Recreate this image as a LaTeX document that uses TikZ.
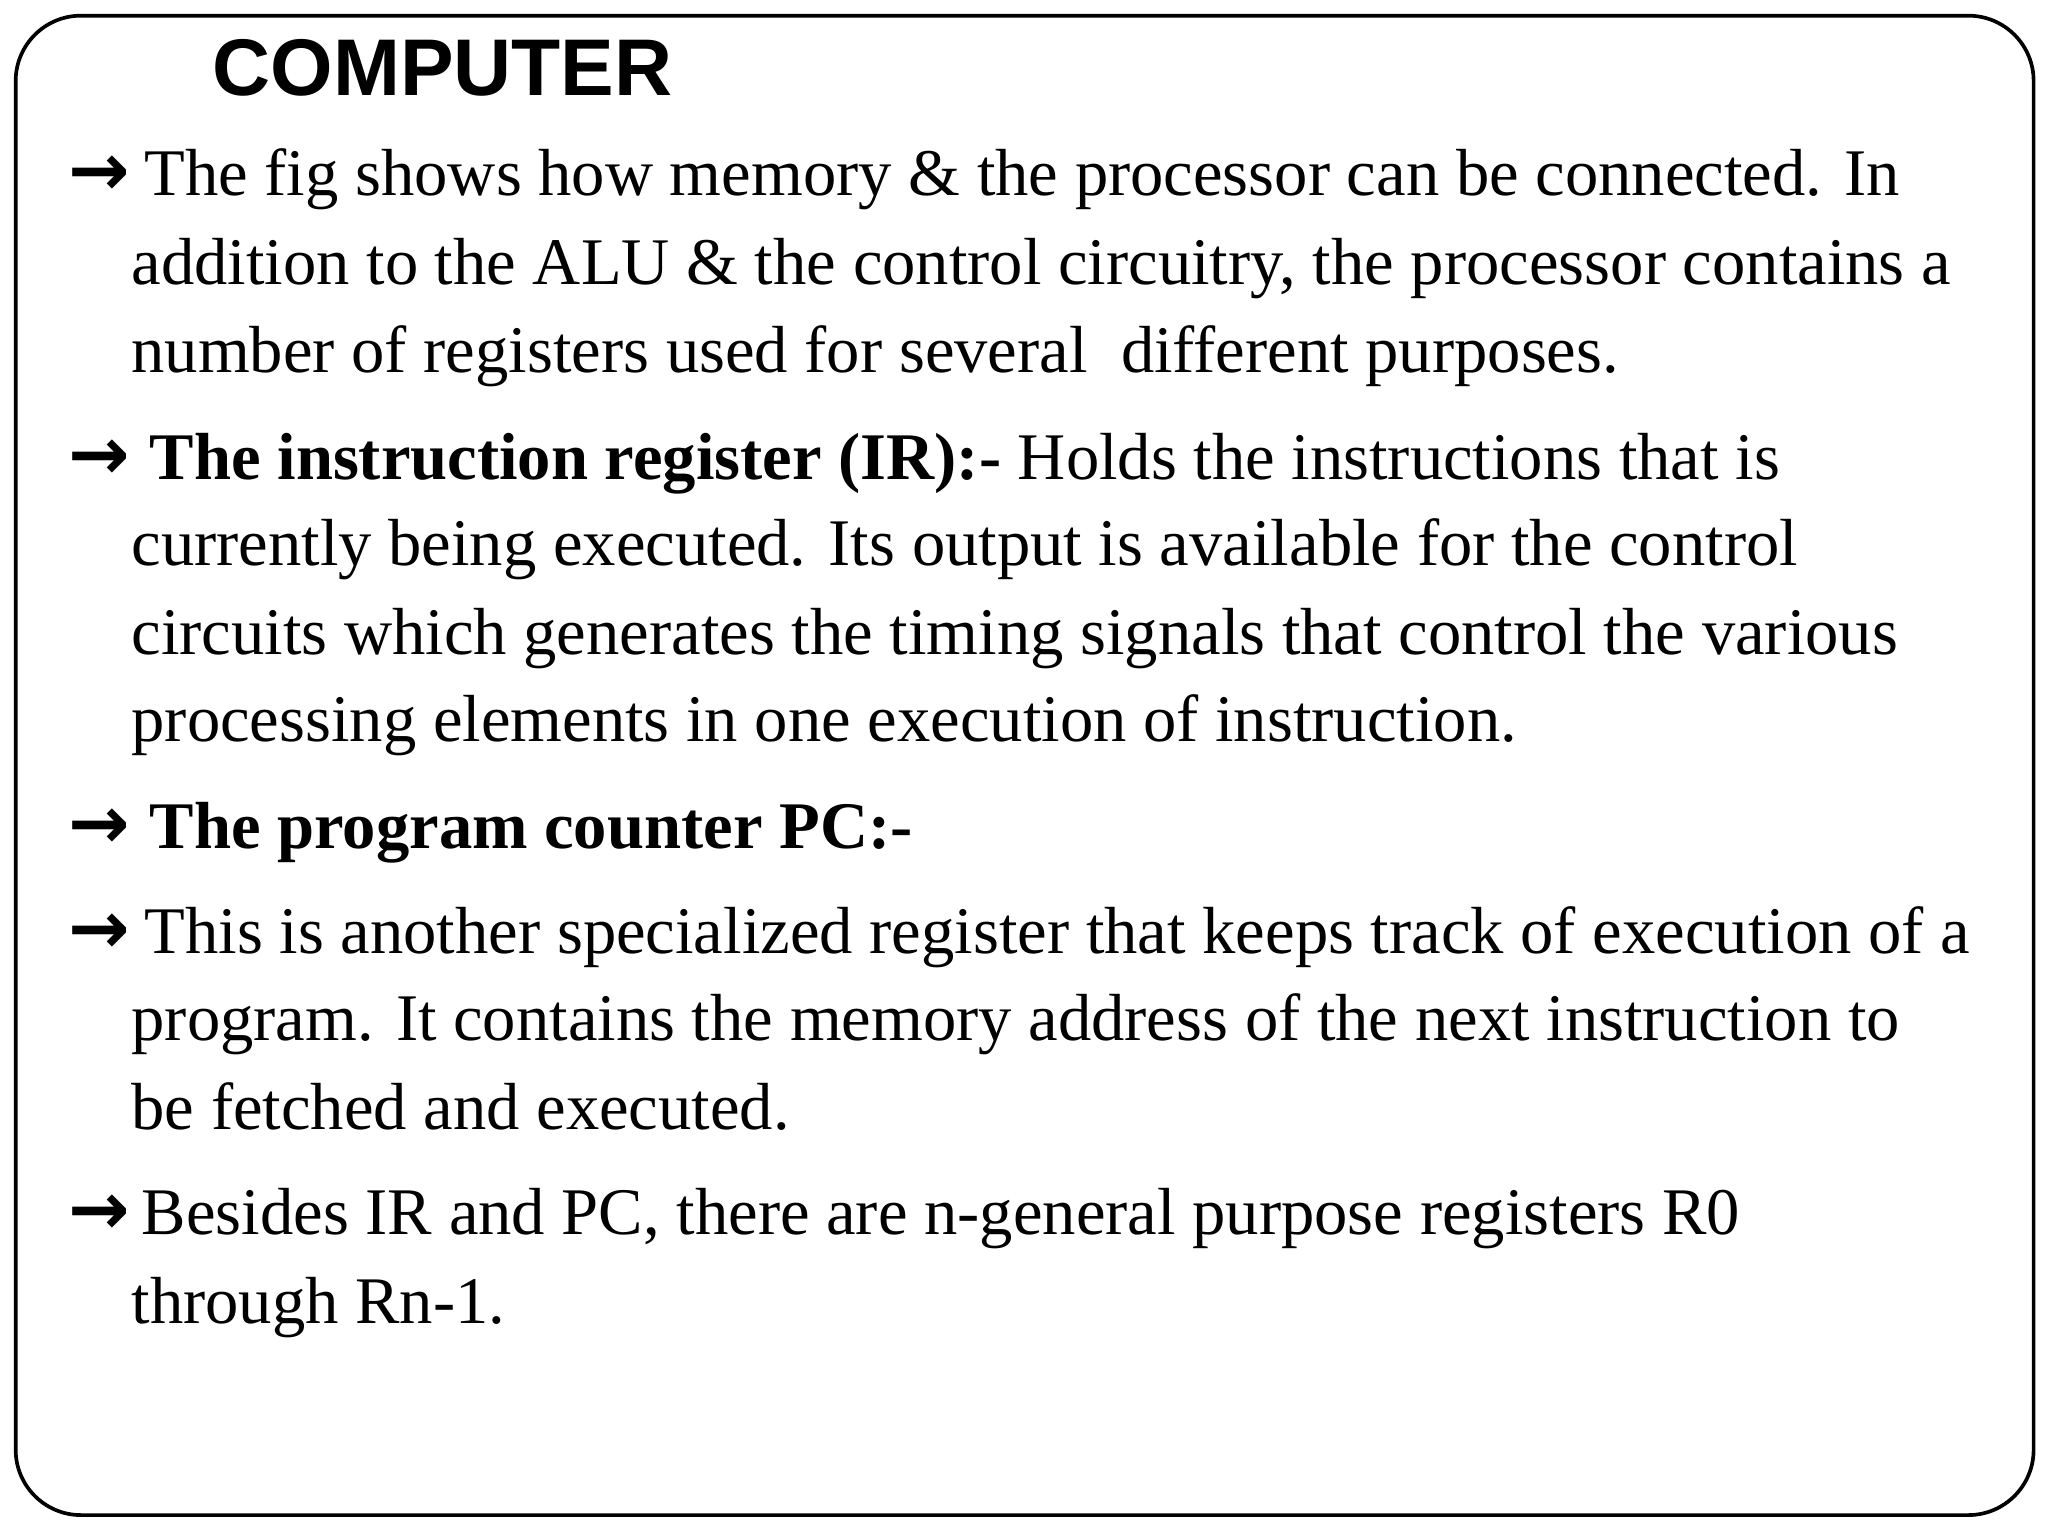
\documentclass[tikz,border=0pt]{standalone}
\usepackage{fontspec}
\setmainfont{Liberation Serif}
\newfontfamily\titlefont{Liberation Sans}
\newfontfamily\arrfont{DejaVu Sans}
\begin{document}
\begin{tikzpicture}[x=0.01cm,y=-0.01cm,
  ln/.style={anchor=base west,inner sep=0,font=\fontsize{14.5}{17}\selectfont},
  ar/.style={anchor=base west,inner sep=0,font=\arrfont\bfseries\fontsize{16}{18}\selectfont}]
\useasboundingbox (0,0) rectangle (1568,1176);
\draw[line width=0.8pt,rounded corners=0.5cm] (12,12) rectangle (1557,1160);
\node[anchor=base west,inner sep=0,font=\titlefont\bfseries\fontsize{17.5}{20}\selectfont] (title) at (162,73) {COMPUTER};
\node[ar] (a1) at (52,150) {→};
\node[ln] (l1) at (110,150) {The fig shows how memory \& the processor can be connected. In};
\node[ln] (l2) at (100,218) {addition to the ALU \& the control circuitry, the processor contains a};
\node[ln] (l3) at (100,285) {number of registers used for several\ \ different purposes.};
\node[ar] (a2) at (52,367) {→};
\node[ln] (l4) at (114,367) {\textbf{The instruction register (IR):-} Holds the instructions that is};
\node[ln] (l5) at (100,433) {currently being executed. Its output is available for the control};
\node[ln] (l6) at (100,501) {circuits which generates the timing signals that control the various};
\node[ln] (l7) at (100,568) {processing elements in one execution of instruction.};
\node[ar] (a3) at (52,650) {→};
\node[ln] (l8) at (114,650) {\textbf{The program counter PC:-}};
\node[ar] (a4) at (52,730) {→};
\node[ln] (l9) at (110,730) {This is another specialized register that keeps track of execution of a};
\node[ln] (l10) at (100,797) {program. It contains the memory address of the next instruction to};
\node[ln] (l11) at (100,865) {be fetched and executed.};
\node[ar] (a5) at (52,945) {→};
\node[ln] (l12) at (108,945) {Besides IR and PC, there are n-general purpose registers R0};
\node[ln] (l13) at (100,1013) {through Rn-1.};
\end{tikzpicture}
\end{document}
